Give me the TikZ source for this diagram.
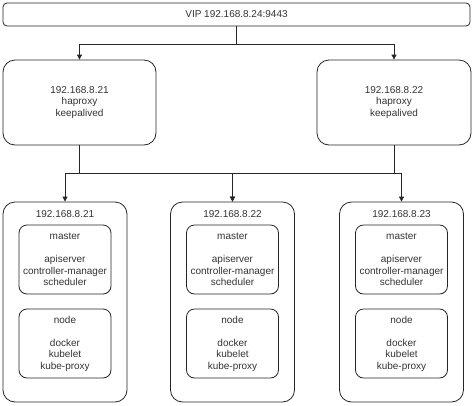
\documentclass[tikz,border=0pt]{standalone}
\usepackage{fontspec}
\setmainfont{Liberation Sans}
\usetikzlibrary{arrows.meta}
\begin{document}
\begin{tikzpicture}[x=1pt,y=-1pt,
  every node/.style={font=\fontsize{10}{11.5}\selectfont, text=black!80},
  rbox/.style={draw=black!85, line width=0.8pt, rounded corners=#1, align=center, inner sep=0pt},
  rbox/.default=12pt,
  conn/.style={draw=black!85, line width=0.8pt},
  arr/.style={conn, -{Triangle[width=5pt,length=5pt]}}]
\useasboundingbox (0,0) rectangle (474,405);
% VIP
\node[rbox=4pt, minimum width=467pt, minimum height=23pt] (vip) at (236.5,14.5) {VIP 192.168.8.24:9443};
% haproxy boxes
\node[rbox, minimum width=153pt, minimum height=85pt] (h1) at (79.5,102.5) {192.168.8.21\\haproxy\\keepalived};
\node[rbox, minimum width=154pt, minimum height=85pt] (h2) at (394,102.5) {192.168.8.22\\haproxy\\keepalived};
% servers
\foreach \i/\cx/\ip in {1/65/21, 2/232.5/22, 3/401.5/23} {
  \node[rbox, minimum width=124pt, minimum height=200pt] (s\i) at (\cx,302) {};
  \node (t\i) at (\cx,214) {192.168.8.\ip};
  \node[rbox=8pt, minimum width=92pt, minimum height=69pt] (m\i) at (\cx,259.5) {master\\[11.5pt]apiserver\\controller-manager\\scheduler};
  \node[rbox=8pt, minimum width=92pt, minimum height=69pt] (n\i) at (\cx,343.5) {node\\[11.5pt]docker\\kubelet\\kube-proxy};
}
% connectors
\draw[arr] (vip.south) -- ++(0,18) -| (h1.north);
\draw[arr] (vip.south) -- ++(0,18) -| (h2.north);
\draw[arr] (h1.south) -- ++(0,28) -| (s1.north);
\draw[arr] (h1.south) -- ++(0,28) -| (s2.north);
\draw[arr] (h2.south) -- ++(0,28) -| (s2.north);
\draw[arr] (h2.south) -- ++(0,28) -| (s3.north);
\end{tikzpicture}
\end{document}
